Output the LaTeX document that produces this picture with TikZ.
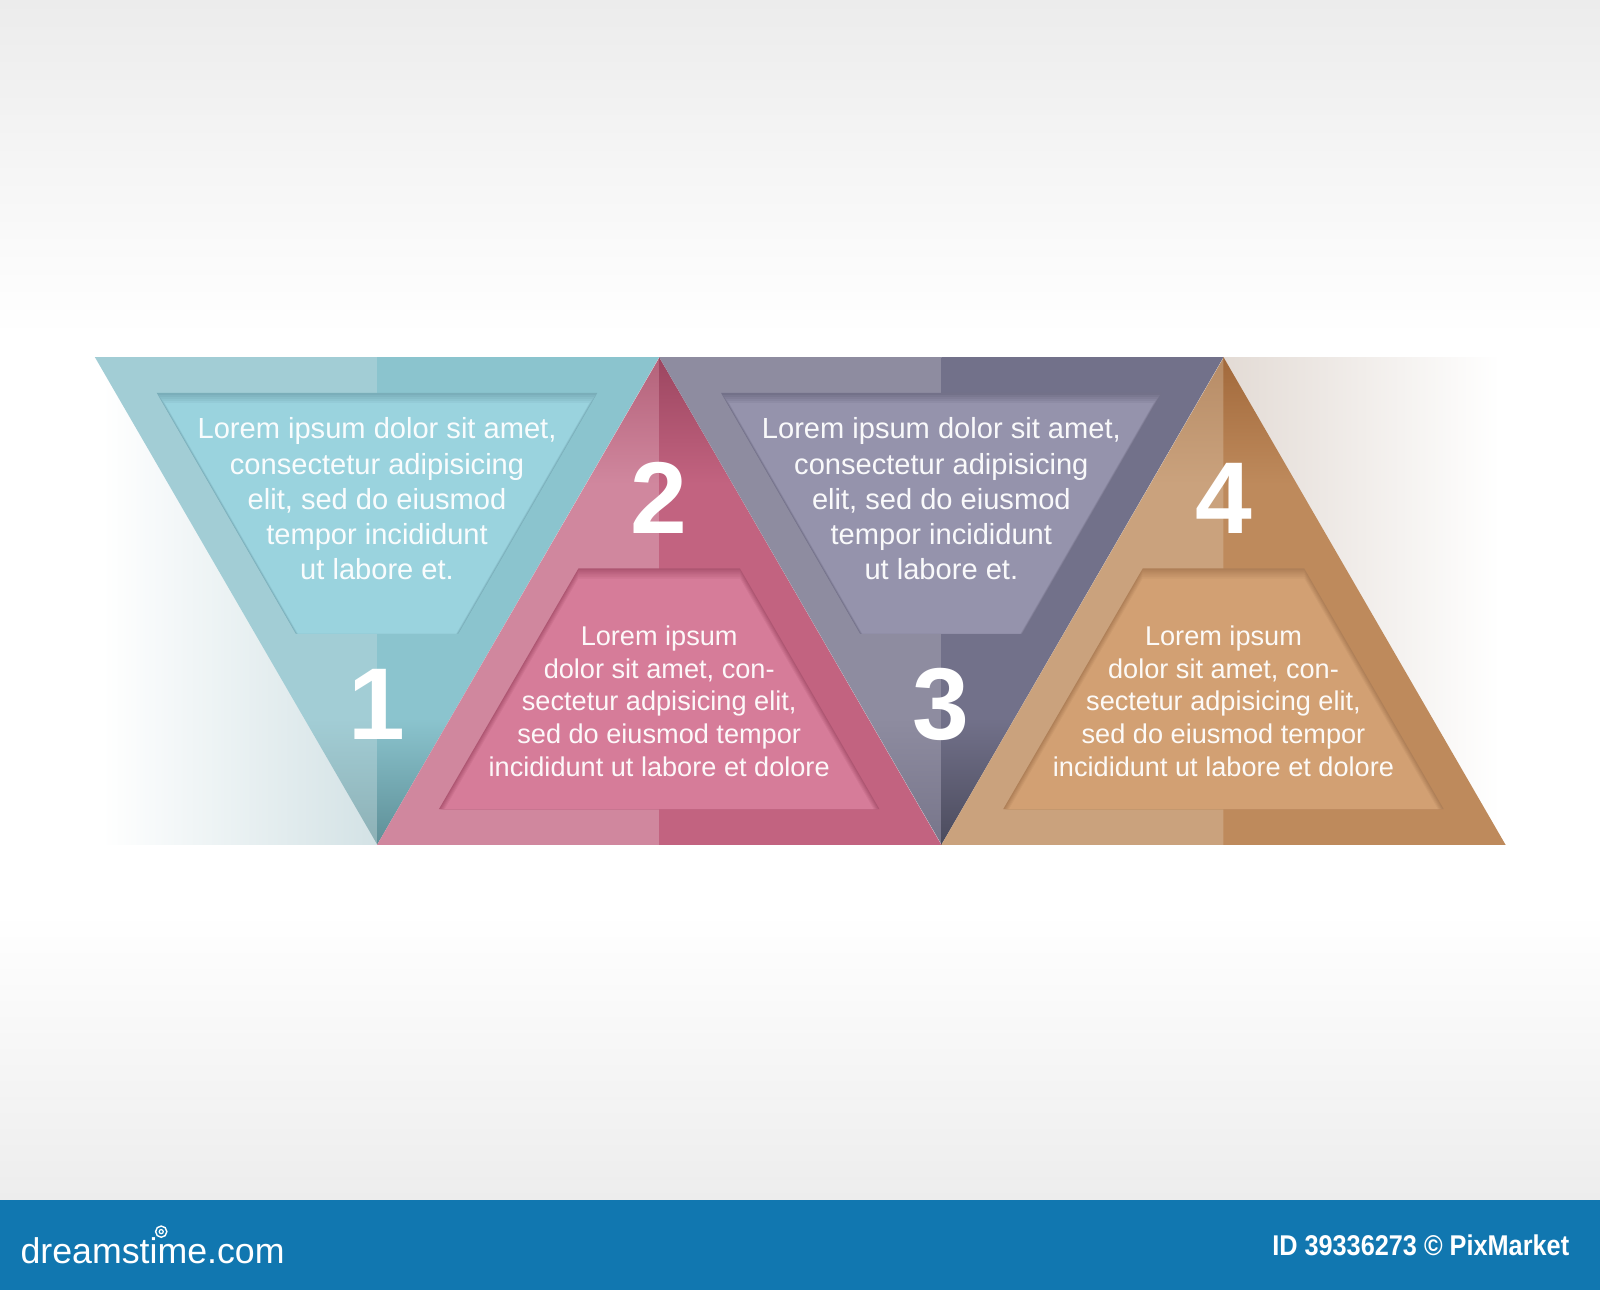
\documentclass[tikz,border=0pt]{standalone}
\usepackage{fontspec}
\setmainfont{Liberation Sans}
\definecolor{bgTop}{HTML}{ECECEC}
\definecolor{bgBot}{HTML}{EDEDED}
\definecolor{banner}{HTML}{1177B0}
\definecolor{fadeL}{HTML}{D3E2E5}
\definecolor{fadeR}{HTML}{E3DBD5}
% triangle 1 (teal)
\definecolor{t1L}{HTML}{A2CDD5}\definecolor{t1R}{HTML}{8BC4CE}
\definecolor{t1Ld}{HTML}{8DB0B5}\definecolor{t1Rd}{HTML}{5E8F97}
\definecolor{t1In}{HTML}{9AD3DE}\definecolor{t1Sh}{HTML}{7AAEB9}
% triangle 2 (pink)
\definecolor{t2L}{HTML}{D0879E}\definecolor{t2R}{HTML}{C26380}
\definecolor{t2Ld}{HTML}{B4627A}\definecolor{t2Rd}{HTML}{9C4660}
\definecolor{t2In}{HTML}{D67C99}\definecolor{t2Sh}{HTML}{AE5672}
% triangle 3 (grey-violet)
\definecolor{t3L}{HTML}{8E8CA0}\definecolor{t3R}{HTML}{72718A}
\definecolor{t3Ld}{HTML}{77758A}\definecolor{t3Rd}{HTML}{4B4B5D}
\definecolor{t3In}{HTML}{9593AC}\definecolor{t3Sh}{HTML}{737189}
% triangle 4 (brown)
\definecolor{t4L}{HTML}{CAA27D}\definecolor{t4R}{HTML}{BE8A5C}
\definecolor{t4Ld}{HTML}{B78C66}\definecolor{t4Rd}{HTML}{A2693B}
\definecolor{t4In}{HTML}{D2A073}\definecolor{t4Sh}{HTML}{AF8058}

\pgfdeclareverticalshading{bgsh}{100bp}{color(0bp)=(bgBot); color(25bp)=(bgBot); color(37bp)=(white); color(61bp)=(white); color(75bp)=(bgTop); color(100bp)=(bgTop)}
% dark at bottom (inverted triangles)
\pgfdeclareverticalshading{s1L}{100bp}{color(0bp)=(t1Ld); color(25bp)=(t1Ld); color(38bp)=(t1L); color(100bp)=(t1L)}
\pgfdeclareverticalshading{s1R}{100bp}{color(0bp)=(t1Rd); color(25bp)=(t1Rd); color(38bp)=(t1R); color(100bp)=(t1R)}
\pgfdeclareverticalshading{s3L}{100bp}{color(0bp)=(t3Ld); color(25bp)=(t3Ld); color(38bp)=(t3L); color(100bp)=(t3L)}
\pgfdeclareverticalshading{s3R}{100bp}{color(0bp)=(t3Rd); color(25bp)=(t3Rd); color(38bp)=(t3R); color(100bp)=(t3R)}
% dark at top (upright triangles)
\pgfdeclareverticalshading{s2L}{100bp}{color(0bp)=(t2L); color(62bp)=(t2L); color(75bp)=(t2Ld); color(100bp)=(t2Ld)}
\pgfdeclareverticalshading{s2R}{100bp}{color(0bp)=(t2R); color(62bp)=(t2R); color(75bp)=(t2Rd); color(100bp)=(t2Rd)}
\pgfdeclareverticalshading{s4L}{100bp}{color(0bp)=(t4L); color(62bp)=(t4L); color(75bp)=(t4Ld); color(100bp)=(t4Ld)}
\pgfdeclareverticalshading{s4R}{100bp}{color(0bp)=(t4R); color(62bp)=(t4R); color(75bp)=(t4Rd); color(100bp)=(t4Rd)}

% inverted triangle: #1 centre x, #2/#3 shadings, #4 inner colour, #5 shadow colour
\newcommand\DownTri[5]{%
  \shade[shading=#2] ({#1-276.5},350) -- ({#1+0.4},350) -- ({#1+0.4},828) -- cycle;
  \shade[shading=#3] (#1,350) -- ({#1+276.5},350) -- (#1,828) -- cycle;
  \fill[#5] ({#1-215.9},385) -- ({#1+215.9},385) -- ({#1+79.6},621) -- ({#1-79.6},621) -- cycle;
  \begin{scope}
    \clip ({#1-215.9},385) -- ({#1+215.9},385) -- ({#1+79.6},621) -- ({#1-79.6},621) -- cycle;
    \foreach \k in {1,...,5}{%
      \pgfmathsetmacro\pc{20*\k}%
      \fill[#4!\pc!#5, shift={(0,2*\k)}] ({#1-215.9+1.6*\k},385) -- ({#1+215.9-1.6*\k},385) -- ({#1+79.6-1.6*\k},621) -- ({#1-79.6+1.6*\k},621) -- cycle;}
  \end{scope}}
% upright triangle
\newcommand\UpTri[5]{%
  \shade[shading=#2] ({#1+0.4},350) -- ({#1+0.4},828) -- ({#1-276.5},828) -- cycle;
  \shade[shading=#3] (#1,350) -- ({#1+276.5},828) -- (#1,828) -- cycle;
  \fill[#5] ({#1-79.1},557) -- ({#1+79.1},557) -- ({#1+215.9},793) -- ({#1-215.9},793) -- cycle;
  \begin{scope}
    \clip ({#1-79.1},557) -- ({#1+79.1},557) -- ({#1+215.9},793) -- ({#1-215.9},793) -- cycle;
    \foreach \k in {1,...,5}{%
      \pgfmathsetmacro\pc{20*\k}%
      \fill[#4!\pc!#5, shift={(0,2*\k)}] ({#1-79.1},557) -- ({#1+79.1},557) -- ({#1+215.9},793) -- ({#1-215.9},793) -- cycle;}
  \end{scope}}

\tikzset{
  numtxt/.style={text=white, inner sep=0pt, font=\fontsize{100}{100}\selectfont\bfseries},
  widetxt/.style={text=white, text opacity=0.95, inner sep=0pt, align=center, font=\fontsize{28.5}{34.5}\selectfont},
  narrowtxt/.style={text=white, text opacity=0.95, inner sep=0pt, align=center, font=\fontsize{26.6}{32}\selectfont},
}

\begin{document}
\begin{tikzpicture}[x=1pt,y=-1pt]
\useasboundingbox (0,0) rectangle (1568,1264);
% background
\shade[shading=bgsh] (0,0) rectangle (1568,1176);
% side fades
\shade[left color=white, right color=fadeL] (100,350) rectangle (369.5,828);
\shade[left color=fadeR, right color=white] (1199,350) rectangle (1470,828);
% triangles
\DownTri{369.5}{s1L}{s1R}{t1In}{t1Sh}
\UpTri{646}{s2L}{s2R}{t2In}{t2Sh}
\DownTri{922.5}{s3L}{s3R}{t3In}{t3Sh}
\UpTri{1199}{s4L}{s4R}{t4In}{t4Sh}
% numbers
\node[numtxt] (n1) at (369.5,690) {1};
\node[numtxt] (n2) at (646,488) {2};
\node[numtxt] (n3) at (922.5,690) {3};
\node[numtxt] (n4) at (1199,488) {4};
% texts
\node[widetxt] (txt1) at (369.5,489) {Lorem ipsum dolor sit amet,\\consectetur adipisicing\\elit, sed do eiusmod\\tempor incididunt\\ut labore et.};
\node[widetxt] (txt3) at (922.5,489) {Lorem ipsum dolor sit amet,\\consectetur adipisicing\\elit, sed do eiusmod\\tempor incididunt\\ut labore et.};
\node[narrowtxt] (txt2) at (646,687) {Lorem ipsum\\dolor sit amet, con-\\sectetur adpisicing elit,\\sed do eiusmod tempor\\incididunt ut labore et dolore};
\node[narrowtxt] (txt4) at (1199,687) {Lorem ipsum\\dolor sit amet, con-\\sectetur adpisicing elit,\\sed do eiusmod tempor\\incididunt ut labore et dolore};
% banner
\fill[banner] (0,1176) rectangle (1568,1264);
\node[anchor=base west, text=white, inner sep=0pt, font=\fontsize{35}{35}\selectfont] (logo) at (20,1238) {dreamstime.com};
\draw[white, line width=1.4pt] (158,1207) circle[radius=5.5];
\draw[white, line width=1.2pt] (158,1207) circle[radius=2];
\node[anchor=base east, text=white, inner sep=0pt, xscale=0.885, font=\fontsize{28}{28}\selectfont\bfseries] (idtxt) at (1538,1230) {ID 39336273 © PixMarket};
\end{tikzpicture}
\end{document}
